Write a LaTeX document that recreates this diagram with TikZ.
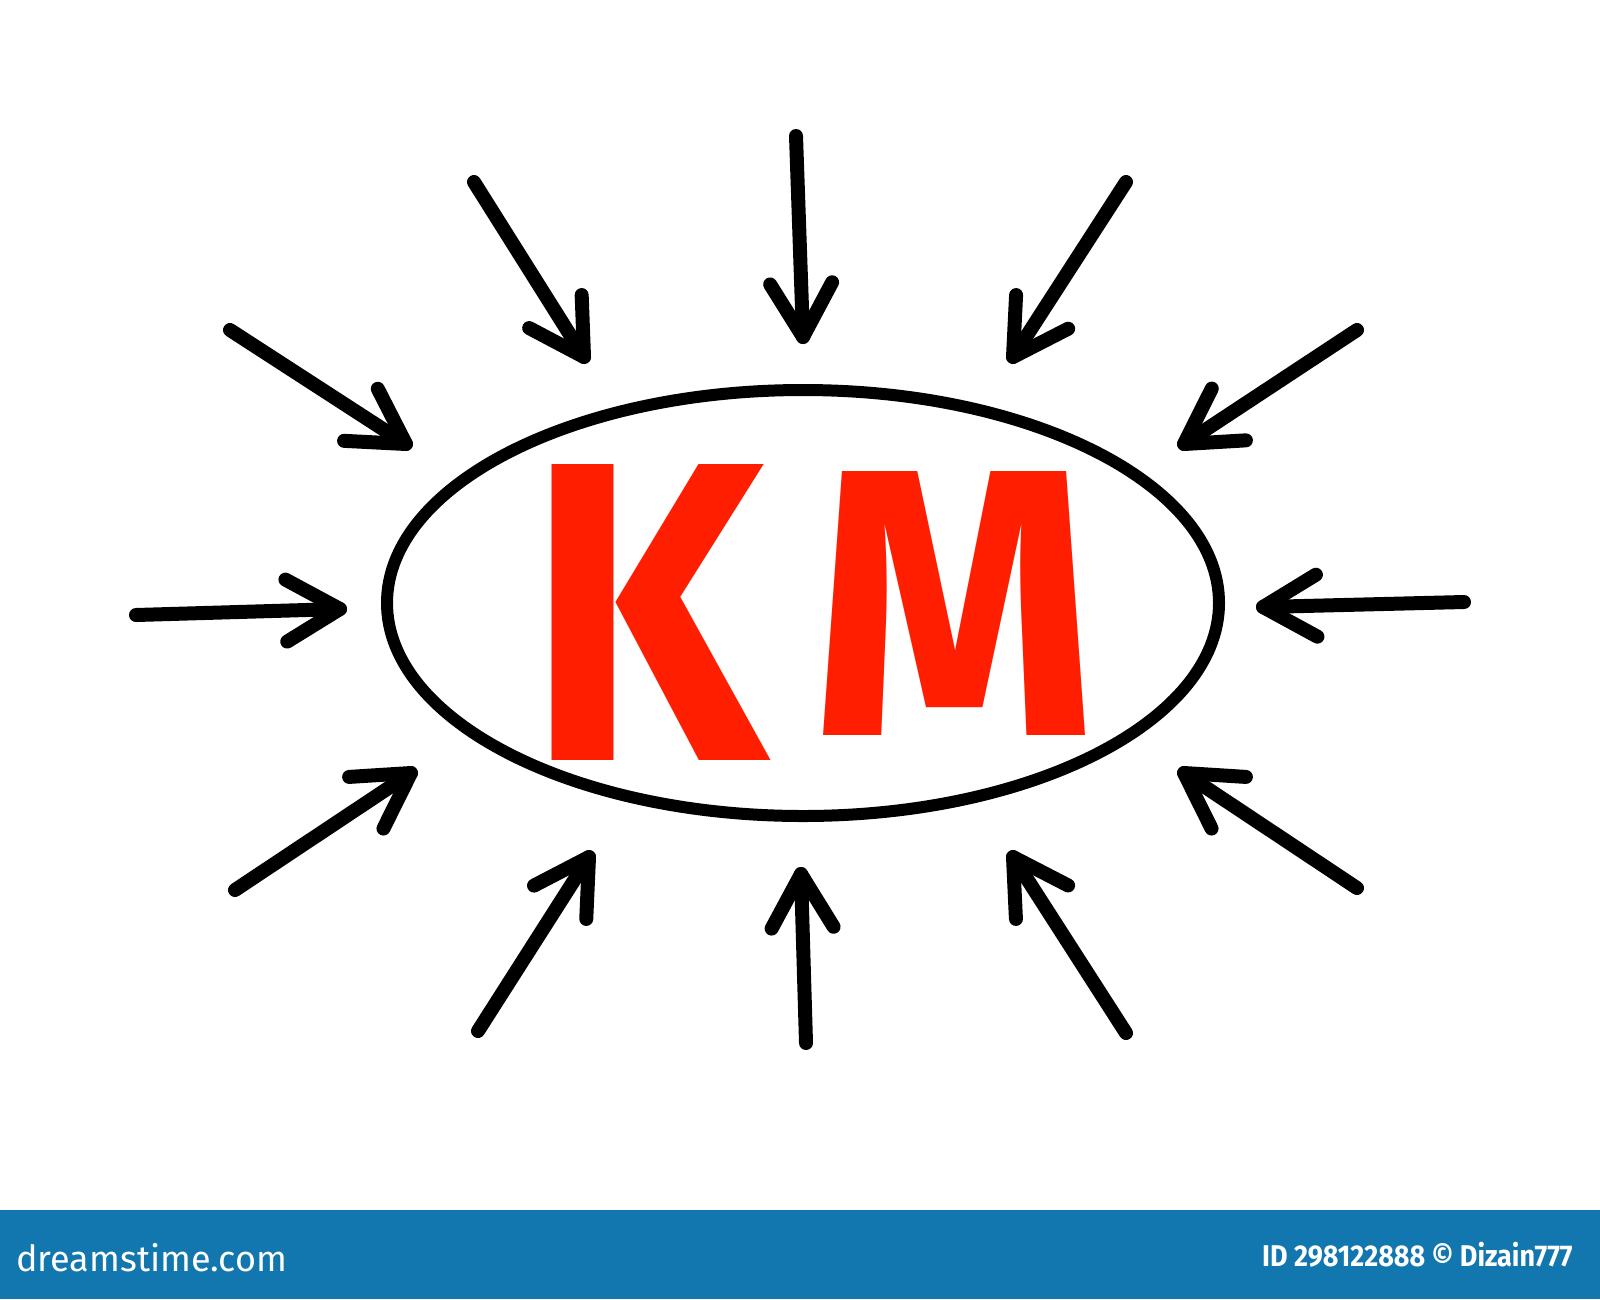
\documentclass[tikz,border=0pt]{standalone}
\usepackage{fontspec}
\setmainfont{Fira Sans}
\usetikzlibrary{shapes.geometric,calc}
\definecolor{kmred}{RGB}{255,30,0}
\definecolor{bannerblue}{RGB}{17,119,174}
\tikzset{
  arrowline/.style={line width=14pt, line cap=round, line join=round, black},
  ovalbox/.style={ellipse, draw=black, line width=12pt, minimum width=832pt, minimum height=426pt, inner sep=0pt},
  kmtext/.style={text=kmred, inner sep=0pt, font=\bfseries\fontsize{400}{400}\selectfont},
  bannertext/.style={text=white, inner sep=0pt, anchor=west}
}
\begin{document}
\begin{tikzpicture}[x=1pt,y=-1pt]
\useasboundingbox (0,0) rectangle (1600,1299);
\fill[white] (0,0) rectangle (1600,1299);
% central oval and label
\node[ovalbox] (oval) at (803,603) {};
\node[kmtext] (k) at (647,612) {\resizebox{239pt}{296pt}{K}};
\node[kmtext] (m) at (954,603) {\resizebox{286pt}{264pt}{M}};
% arrows pointing inward
\foreach \i/\tx/\ty/\hx/\hy in {
  1/796/136/803/337,
  2/474/182/584/357,
  3/1126/182/1013/357,
  4/230/330/406/444,
  5/1357/330/1184/444,
  6/136/615/340/609,
  7/1464/602/1263/607,
  8/235/890/411/773,
  9/1357/888/1184/773,
  10/478/1031/589/857,
  11/806/1043/801/874,
  12/1126/1033/1013/857}{
  \coordinate (t\i) at (\tx,\ty);
  \coordinate (h\i) at (\hx,\hy);
  \draw[arrowline] (t\i) -- (h\i);
  \draw[arrowline] ($(h\i)!62pt!30:(t\i)$) -- (h\i) -- ($(h\i)!62pt!-30:(t\i)$);
}
% banner
\fill[bannerblue] (0,1210) rectangle (1600,1299);
\node[bannertext, font=\fontsize{36}{36}\selectfont] (logo) at (16,1258) {dreamstime.com};
\node[bannertext, font=\bfseries\fontsize{30}{30}\selectfont] (credit) at (1262,1255) {\scalebox{0.9}[1]{ID 298122888 © Dizain777}};
\end{tikzpicture}
\end{document}
